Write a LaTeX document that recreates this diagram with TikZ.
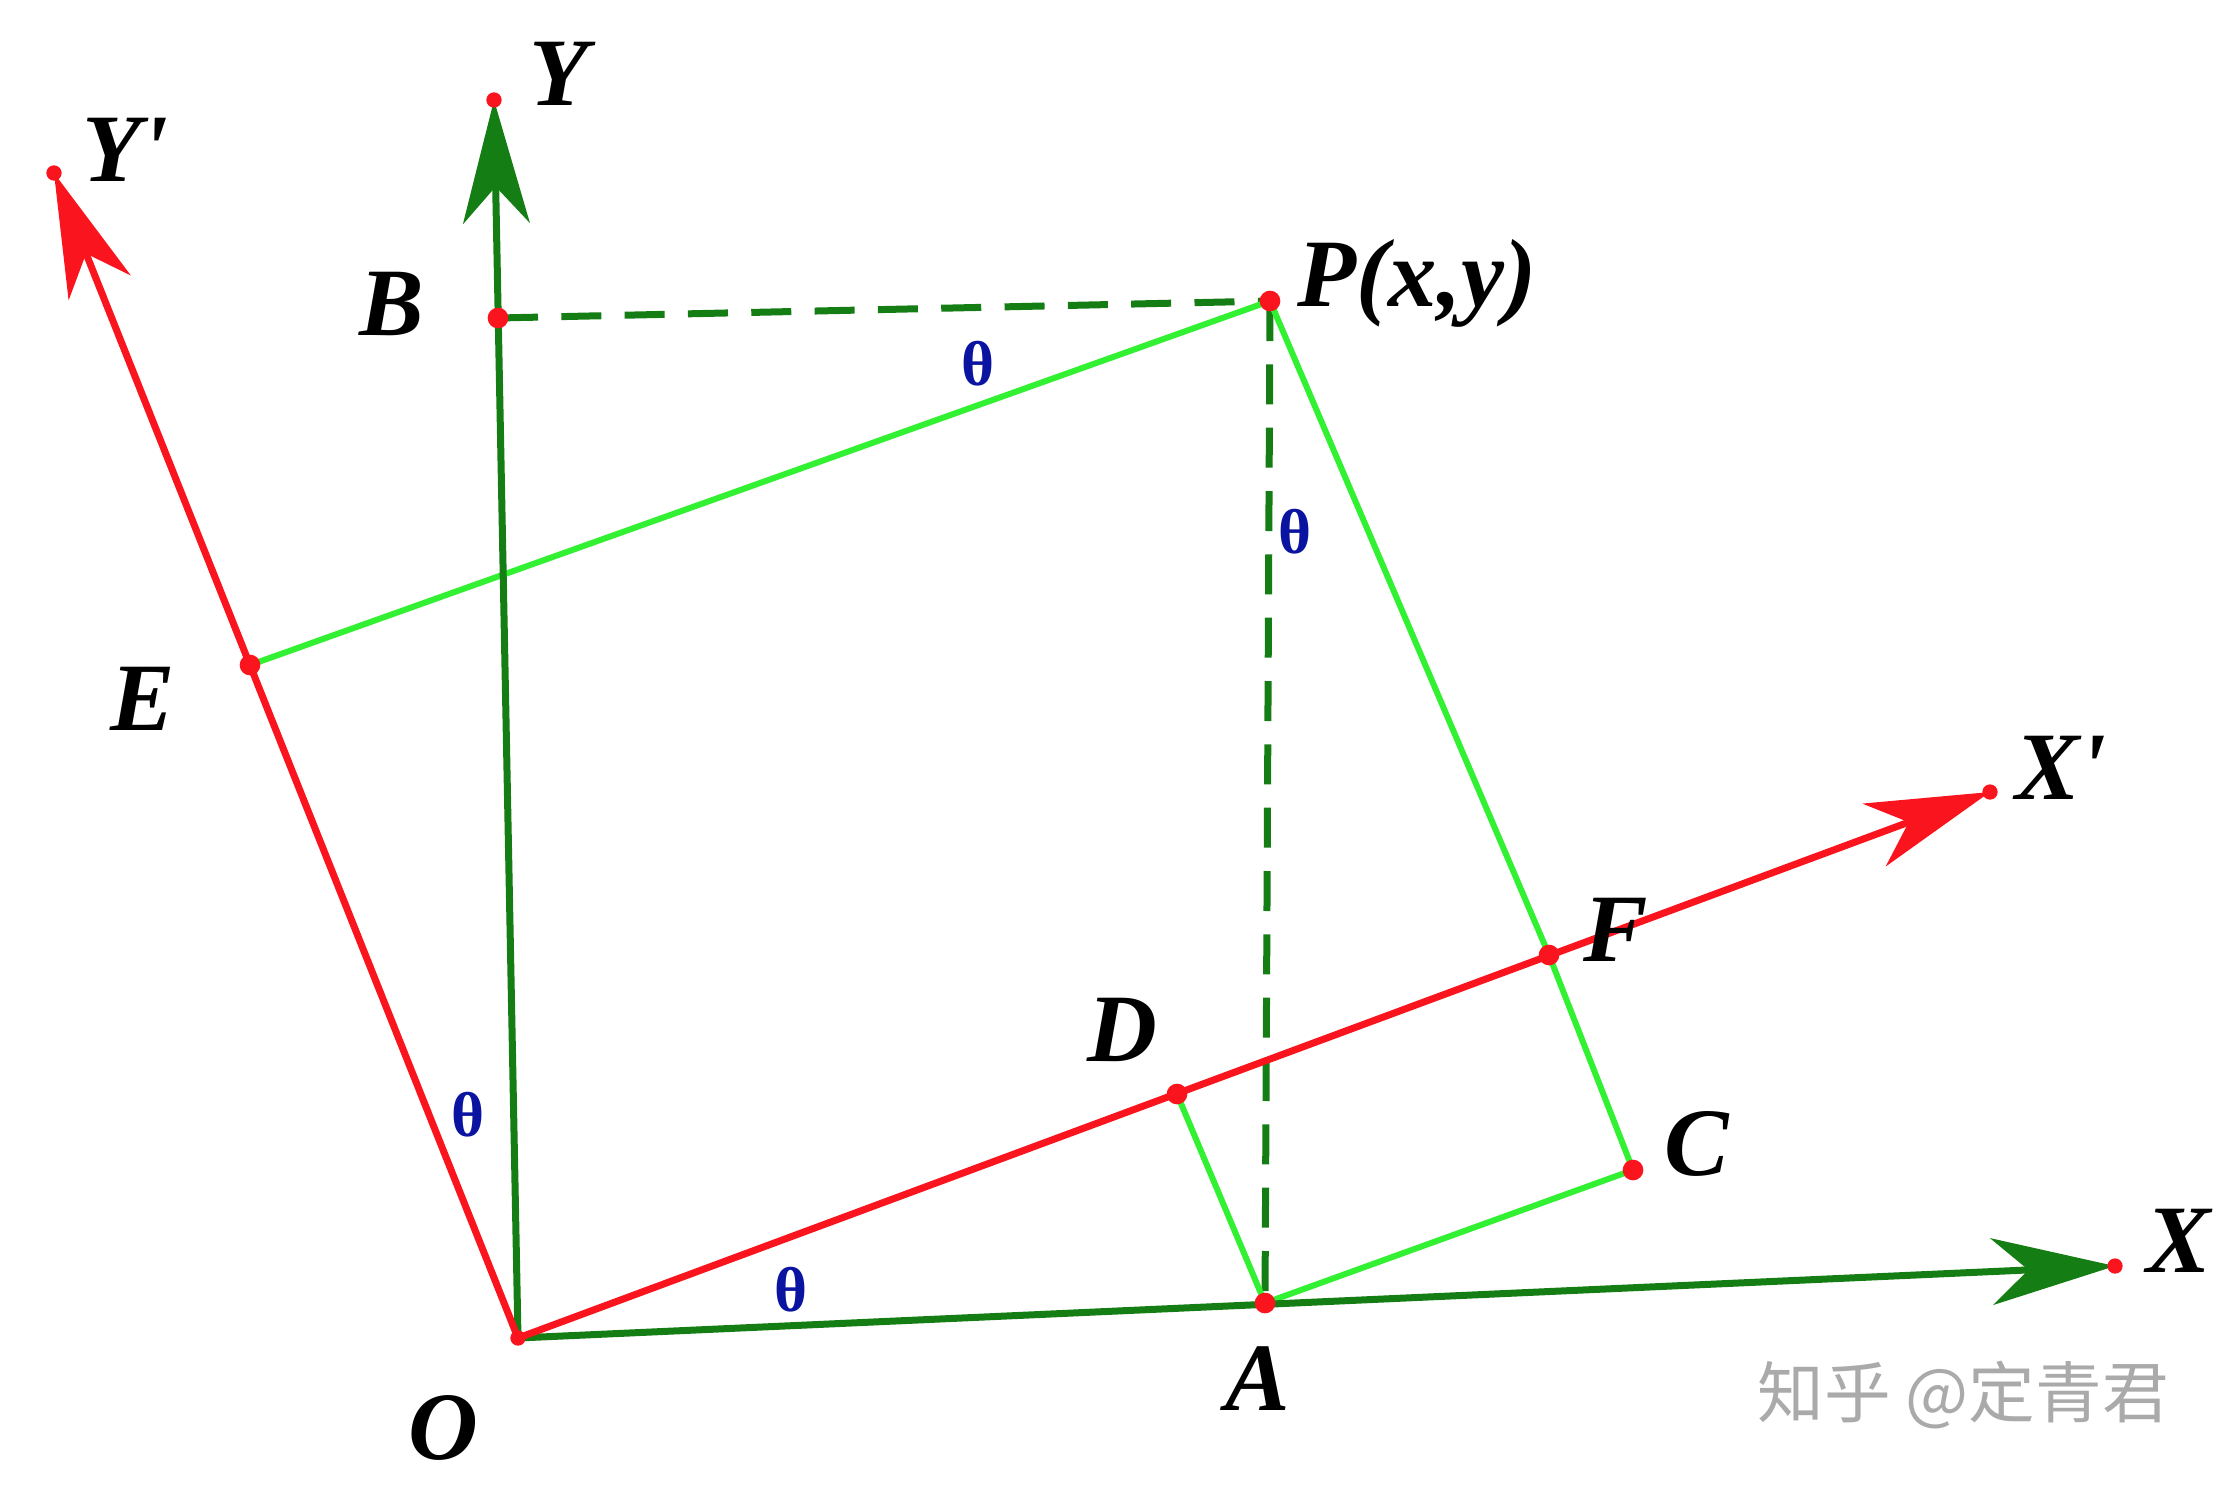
\documentclass[tikz,border=0pt]{standalone}
\usepackage{fontspec}
\setmainfont{Liberation Serif}
\newfontfamily\labfont{Liberation Serif}[Ligatures=TeXOff]
\newfontfamily\cjkfont{Noto Sans CJK SC}
\usetikzlibrary{arrows.meta}
\definecolor{axgreen}{RGB}{20,125,20}
\definecolor{axred}{RGB}{250,20,30}
\definecolor{ltgreen}{RGB}{50,240,50}
\definecolor{thblue}{RGB}{10,20,160}
\definecolor{wmgray}{RGB}{170,170,170}
\begin{document}
\begin{tikzpicture}[x=0.3pt,y=-0.3pt,
  axisG/.style={draw=axgreen,line width=2.1pt},
  axisR/.style={draw=axred,line width=2.1pt},
  proj/.style={draw=ltgreen,line width=1.8pt},
  dashproj/.style={draw=axgreen,line width=2.1pt,dash pattern=on 12pt off 7pt},
  tipG/.style={-{Stealth[length=37pt,width=20pt,inset=11pt]}},
  lab/.style={font=\labfont\bfseries\itshape\fontsize{29}{30}\selectfont,inner sep=0pt},
  th/.style={text=thblue,font=\bfseries\fontsize{19}{20}\selectfont,inner sep=0pt},
  dot/.style={circle,fill=axred,inner sep=0pt,minimum size=6.2pt},
  enddot/.style={circle,fill=axred,inner sep=0pt,minimum size=4.6pt},
]
\useasboundingbox (0,0) rectangle (2236,1488);
% points
\coordinate (O) at (518,1338);
\coordinate (Xe) at (2115,1266);
\coordinate (Ye) at (494,100);
\coordinate (Ype) at (54,173);
\coordinate (Xpe) at (1990,792);
\coordinate (P) at (1270,301);
\coordinate (B) at (498,318);
\coordinate (A) at (1265,1303);
\coordinate (E) at (250,665);
\coordinate (D) at (1177,1094);
\coordinate (F) at (1549,955);
\coordinate (C) at (1633,1170);
% projections
\draw[dashproj] (B) -- (P);
\draw[dashproj] (P) -- (A);
\draw[proj] (E) -- (P) -- (F) -- (C) -- (A) -- (D);
% axes
\draw[axisG,tipG] (O) -- (Xe);
\draw[axisG,tipG] (O) -- (Ye);
\draw[axisR,tipG] (O) -- (Xpe);
\draw[axisR,tipG] (O) -- (Ype);
% dots
\foreach \p in {O,Xe,Ye,Ype,Xpe} \node[enddot] at (\p) {};
\foreach \p in {P,B,A,E,D,F,C} \node[dot] at (\p) {};
% labels
\node[lab] (lY) at (559,74) {Y};
\node[lab] (lYp) at (125,150) {Y'};
\node[lab] (lB) at (392,304) {B};
\node[lab] (lP) at (1417,283) {P(x,y)};
\node[lab] (lE) at (143,699) {E};
\node[lab] (lXp) at (2061,768) {X'};
\node[lab] (lF) at (1616,930) {F};
\node[lab] (lD) at (1122,1030) {D};
\node[lab] (lC) at (1697,1144) {C};
\node[lab] (lX) at (2179,1241) {X};
\node[lab] (lA) at (1258,1379) {A};
\node[lab] (lO) at (443,1428) {O};
% theta
\node[th] (t1) at (791,1290) {θ};
\node[th] (t2) at (468,1115) {θ};
\node[th] (t3) at (978,364) {θ};
\node[th] (t4) at (1295,532) {θ};
% watermark
\node[text=wmgray,font=\cjkfont\fontsize{20}{22}\selectfont,inner sep=0pt] (wm) at (1963,1395) {知乎 @定青君};
\end{tikzpicture}
\end{document}
